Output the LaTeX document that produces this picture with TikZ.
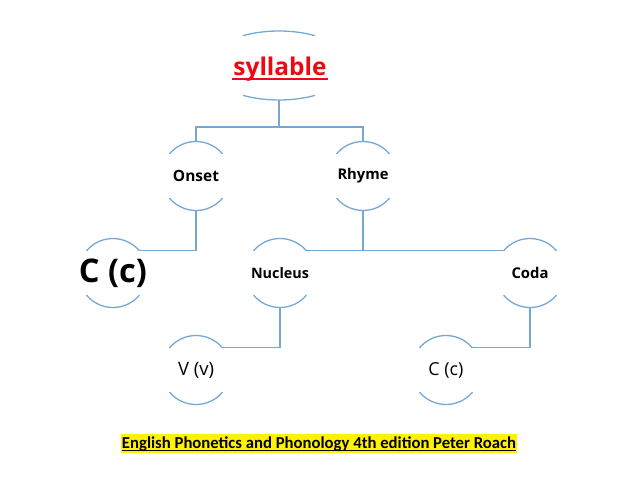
\documentclass[tikz,border=0pt]{standalone}
\usepackage{fontspec}
\setmainfont{Open Sans}
\newfontfamily\capfont{Carlito}
\usetikzlibrary{calc}
\definecolor{linkblue}{RGB}{118,168,214}
\definecolor{sylred}{RGB}{235,10,20}
\newcommand\R{34.5}
\newcommand\arcnode[5]{%
  \node[lbl] (#1) at (#2,-#3) {#5};
  \draw[link] ($(#1)+(40:\R)$) arc[start angle=40,end angle=140,radius=\R];
  \draw[link] ($(#1)+(220:\R)$) arc[start angle=220,end angle=320,radius=\R];
  \coordinate (#1-t) at ($(#1)+(0,\R)$);
  \coordinate (#1-b) at ($(#1)+(0,-\R)$);
  \coordinate (#1-tr) at ($(#1)+(40:\R)$);
  \coordinate (#1-tl) at ($(#1)+(140:\R)$);
}
\begin{document}
\begin{tikzpicture}[x=1pt,y=1pt,
  link/.style={draw=linkblue,line width=1.3pt},
  lbl/.style={inner sep=0pt,anchor=center}]
\useasboundingbox (0,0) rectangle (638,-493);
% syllable (elliptical arcs)
\coordinate (sylc) at (279,-65.5);
\node[inner sep=0pt,anchor=base] (syl) at (280,-75) {\resizebox{93pt}{!}{\color{sylred}\bfseries syllable}};
\draw[sylred,line width=2.2pt] ($(syl.base west)+(-1,-4)$) -- ($(syl.base east)+(1,-4)$);
\draw[link] ($(sylc)+(60:72 and 34.5)$) arc[start angle=60,end angle=120,x radius=72,y radius=34.5];
\draw[link] ($(sylc)+(240:72 and 34.5)$) arc[start angle=240,end angle=300,x radius=72,y radius=34.5];
\coordinate (syl-b) at ($(sylc)+(0,-34.5)$);
\coordinate (bar) at (279,-127);
% nodes
\arcnode{onset}{196}{176}{}{\resizebox{46pt}{!}{\bfseries Onset}}
\arcnode{rhyme}{363}{176}{}{\resizebox{51pt}{!}{\bfseries Rhyme}}
\arcnode{cbig}{113}{273}{}{\resizebox{68pt}{!}{\bfseries C (c)}}
\arcnode{nucleus}{280}{273}{}{\resizebox{58pt}{!}{\bfseries Nucleus}}
\arcnode{coda}{530}{273}{}{\resizebox{37pt}{!}{\bfseries Coda}}
\arcnode{vv}{196}{370}{}{\resizebox{36pt}{!}{V (v)}}
\arcnode{csmall}{446}{370}{}{\resizebox{35pt}{!}{C (c)}}
% connectors
\draw[link] (syl-b) -- (bar);
\draw[link] (onset-t) |- (bar) -| (rhyme-t);
\draw[link] (onset-b) |- (cbig-tr);
\draw[link] (nucleus-tr) -| (rhyme-b);
\draw[link] (nucleus-tr) -- (coda-tl);
\draw[link] (nucleus-b) |- (vv-tr);
\draw[link] (coda-b) |- (csmall-tr);
% caption
\fill[yellow] (121,-434) rectangle (517,-452.5);
\node[inner sep=0pt,anchor=base] (cap) at (319,-448)
  {\resizebox{394pt}{!}{\capfont\bfseries English Phonetics and Phonology 4th edition Peter Roach}};
\draw[line width=1.3pt] ($(cap.base west)+(0,-2.5)$) -- ($(cap.base east)+(0,-2.5)$);
\end{tikzpicture}
\end{document}
